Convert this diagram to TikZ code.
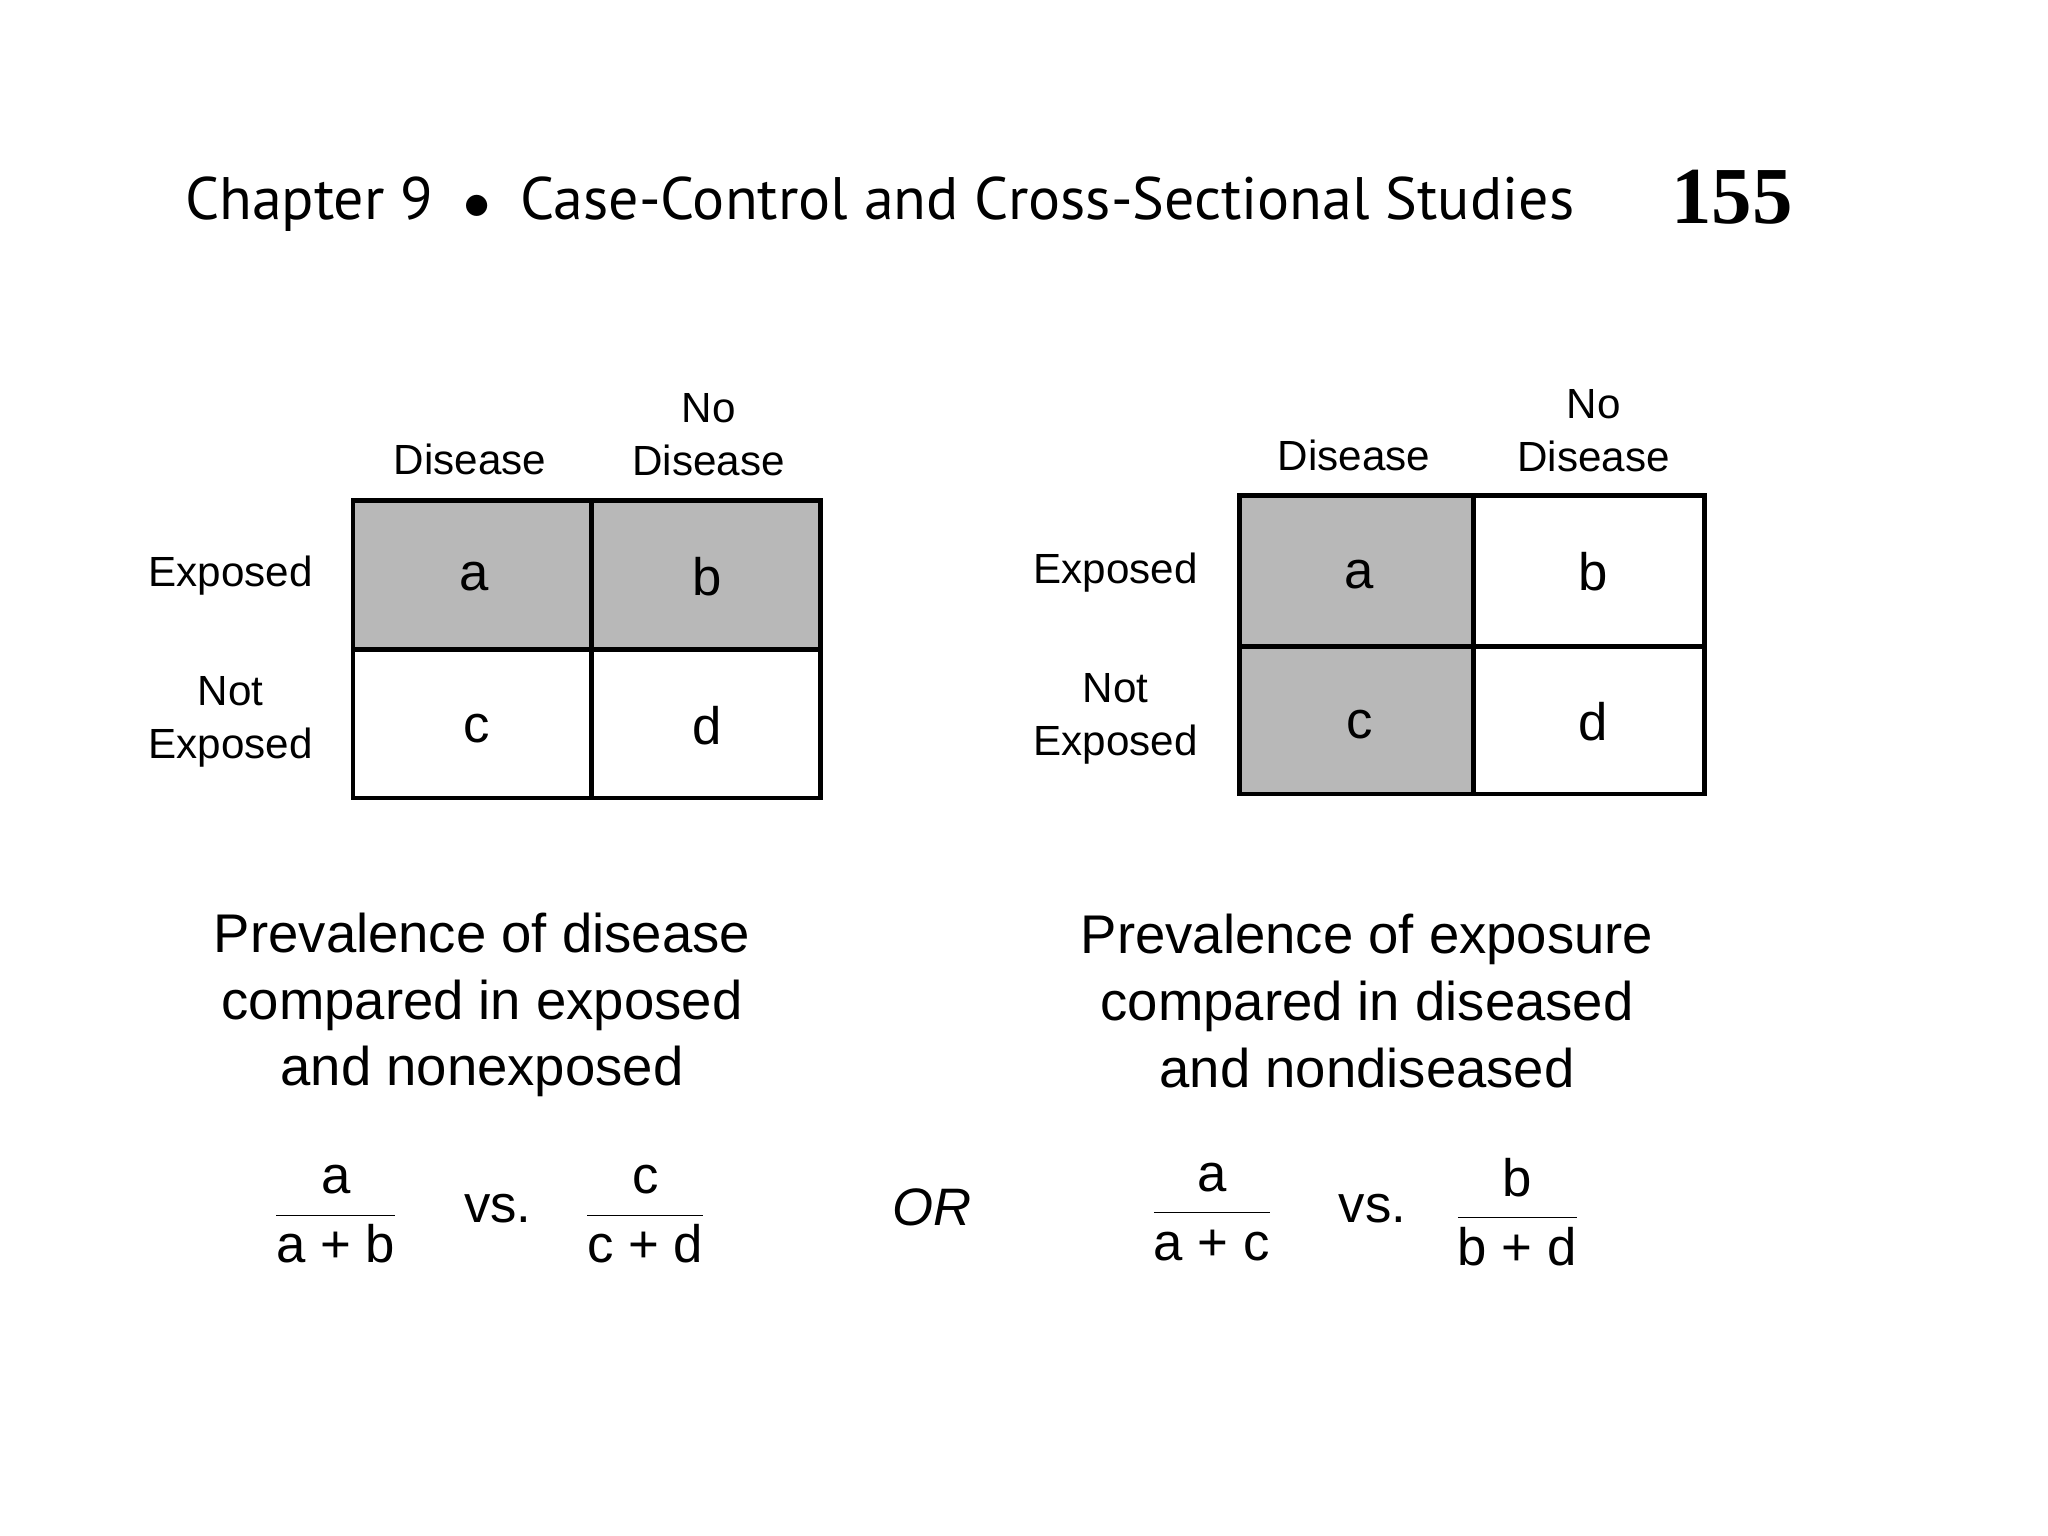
\documentclass[tikz,border=0pt]{standalone}
\usepackage{fontspec}
\usepackage{graphicx}
\setmainfont{Liberation Sans}
\newfontfamily\headfont{PT Sans}
\begin{document}
\begin{tikzpicture}[x=0.01317cm,y=-0.01317cm,
  lbl/.style={font=\fontsize{12}{13}\selectfont,inner sep=0pt},
  cell/.style={font=\fontsize{15}{16}\selectfont,inner sep=0pt},
  para/.style={font=\fontsize{15.5}{19}\selectfont,align=center,inner sep=0pt},
  frac/.style={font=\fontsize{15}{16}\selectfont,inner sep=0pt},
  grid/.style={line width=1.3pt},
  shade/.style={fill=black!28}]
\useasboundingbox (0,0) rectangle (1555,1166);
\fill[white] (0,0) rectangle (1555,1166);
\node[anchor=west,inner sep=0pt] (head) at (140,155) {\resizebox{13.89cm}{!}{\headfont\fontsize{19}{20}\selectfont Chapter 9\enspace$\bullet$\enspace Case-Control and Cross-Sectional Studies}};
\node[font=\fontsize{23}{24}\selectfont\bfseries,inner sep=0pt] (page) at (1315,150) {\fontspec{Liberation Serif}155};
% left table
\fill[shade] (268,380) rectangle (623,493);
\draw[grid] (268,380) rectangle (623,606);
\draw[grid] (449,380) -- (449,606);
\draw[grid] (268,493) -- (623,493);
\node[lbl] (l1) at (357,349) {Disease};
\node[lbl,align=center] (l2) at (538,330) {No\\[2pt]Disease};
\node[lbl] (l3) at (175,437) {Exposed};
\node[lbl,align=center] (l4) at (175,548) {Not\\[2pt]Exposed};
\node[cell] (la) at (360,438) {a};
\node[cell] (lb) at (537,438) {b};
\node[cell] (lc) at (362,553) {c};
\node[cell] (ld) at (537,551) {d};
% right table
\fill[shade] (941,376) rectangle (1119,603);
\draw[grid] (941,376) rectangle (1294,603);
\draw[grid] (1119,376) -- (1119,603);
\draw[grid] (941,491) -- (1294,491);
\node[lbl] (r1) at (1028,346) {Disease};
\node[lbl,align=center] (r2) at (1210,327) {No\\[2pt]Disease};
\node[lbl] (r3) at (847,435) {Exposed};
\node[lbl,align=center] (r4) at (847,546) {Not\\[2pt]Exposed};
\node[cell] (ra) at (1032,436) {a};
\node[cell] (rb) at (1210,434) {b};
\node[cell] (rc) at (1032,550) {c};
\node[cell] (rd) at (1210,548) {d};
% paragraphs
\node[para] (p1) at (366,763) {Prevalence of disease\\compared in exposed\\and nonexposed};
\node[para] (p2) at (1038,760) {Prevalence of exposure\\compared in diseased\\and nondiseased};
% fractions
\node[frac] (f1) at (255,922) {$\displaystyle\frac{\mbox{a}}{\mbox{a + b}}$};
\node[frac] (v1) at (378,918) {vs.};
\node[frac] (f2) at (490,922) {$\displaystyle\frac{\mbox{c}}{\mbox{c + d}}$};
\node[frac,font=\fontsize{15}{16}\selectfont\itshape] (or) at (708,917) {OR};
\node[frac] (f3) at (920,920) {$\displaystyle\frac{\mbox{a}}{\mbox{a + c}}$};
\node[frac] (v2) at (1042,918) {vs.};
\node[frac] (f4) at (1152,920) {$\displaystyle\frac{\mbox{b}}{\mbox{b + d}}$};
\end{tikzpicture}
\end{document}
